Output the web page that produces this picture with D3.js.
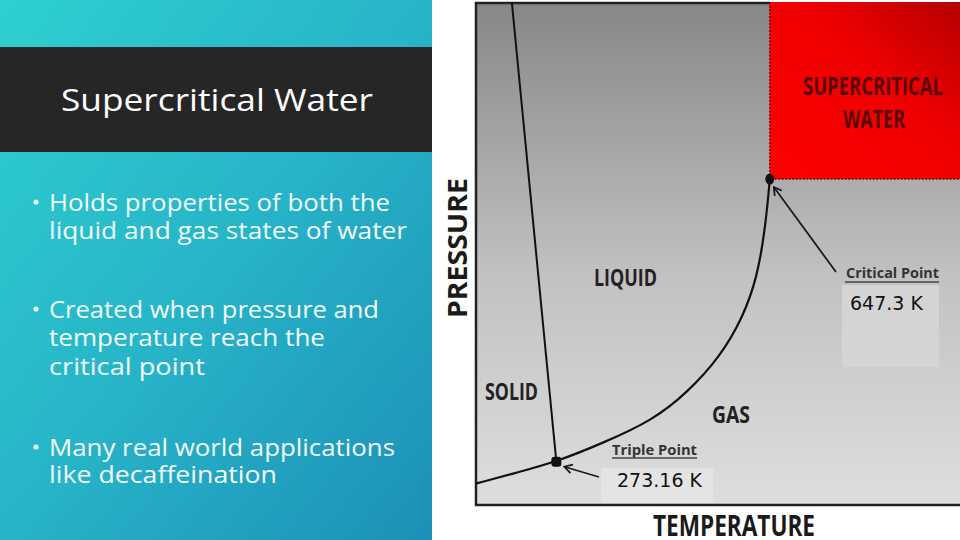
<!DOCTYPE html>
<html>
<head>
<meta charset="utf-8">
<style>
  body { margin: 0; background: #fff; }
  svg { display: block; }
</style>
</head>
<body>
<svg id="slide"></svg>
<script src="https://cdn.jsdelivr.net/npm/d3@7"></script>
<script>
// --- data (schematic units, 0..100 on both axes) ---
const fusionLine = [[7.4, 100], [16.6, 8.6]];
const vaporCurve = [[0.1, 4.3], [9.1, 6.6], [16.6, 8.6], [26.2, 12.3], [36.6, 16.9], [43.6, 22.3],
                    [50.4, 29.4], [55.2, 37.4], [58.1, 45.3], [59.7, 54.7], [60.5, 62.5], [60.7, 64.8]];
const triplePoint = [16.6, 8.6];
const criticalPoint = [60.7, 64.8];
const pointLabels = ["273.16 K", "647.3 K"];
const phaseNames = ["SOLID", "LIQUID", "GAS"];
const bullets = [
  ["Holds properties of both the", "liquid and gas states of water"],
  ["Created when pressure and", "temperature reach the", "critical point"],
  ["Many real world applications", "like decaffeination"]
];

const W = 960, H = 540;
const svg = d3.select('#slide').attr('width', W).attr('height', H);
const defs = svg.append('defs');

// gradients
const teal = defs.append('linearGradient').attr('id', 'teal')
  .attr('x1', 0).attr('y1', 0).attr('x2', 1).attr('y2', 1);
teal.append('stop').attr('offset', 0).attr('stop-color', '#2ed0d0');
teal.append('stop').attr('offset', 0.5).attr('stop-color', '#27b4c8');
teal.append('stop').attr('offset', 1).attr('stop-color', '#1d8fb8');

const grey = defs.append('linearGradient').attr('id', 'grey')
  .attr('x1', 0).attr('y1', 0).attr('x2', 0).attr('y2', 1);
grey.append('stop').attr('offset', 0).attr('stop-color', '#878787');
grey.append('stop').attr('offset', 0.55).attr('stop-color', '#c2c2c2');
grey.append('stop').attr('offset', 1).attr('stop-color', '#dedede');

const red = defs.append('linearGradient').attr('id', 'red')
  .attr('x1', 0).attr('y1', 1).attr('x2', 1).attr('y2', 0);
red.append('stop').attr('offset', 0).attr('stop-color', '#ff0000');
red.append('stop').attr('offset', 0.6).attr('stop-color', '#ee0000');
red.append('stop').attr('offset', 1).attr('stop-color', '#b40000');

// open arrowhead, tip at the end of the line
defs.append('marker').attr('id', 'arrow')
  .attr('viewBox', '0 0 10 10').attr('refX', 9).attr('refY', 5)
  .attr('markerUnits', 'userSpaceOnUse')
  .attr('markerWidth', 11).attr('markerHeight', 11).attr('orient', 'auto')
  .append('path').attr('d', 'M2,1 L9,5 L2,9')
  .attr('fill', 'none').attr('stroke', '#1a1a1a').attr('stroke-width', 1.6);

// --- left panel ---
svg.append('rect').attr('x', 0).attr('y', 0).attr('width', 432).attr('height', H).attr('fill', 'url(#teal)');
svg.append('rect').attr('x', 0).attr('y', 47).attr('width', 432).attr('height', 105).attr('fill', '#262626');
svg.append('text').attr('x', 61).attr('y', 111)
  .attr('font-family', 'Open Sans').attr('font-size', 31).attr('fill', '#fff')
  .attr('textLength', 312).attr('lengthAdjust', 'spacingAndGlyphs')
  .text('Supercritical Water');

const lineEnds = [[390, 407], [379, 325, 205], [395, 277]];
const lineBase = [[211, 239], [318, 346, 375], [456, 483]];
bullets.forEach((lines, i) => {
  svg.append('circle').attr('cx', 36).attr('cy', lineBase[i][0] - 9).attr('r', 2.6)
    .attr('fill', '#eafafa');
  lines.forEach((t, j) => {
    svg.append('text').attr('x', 49).attr('y', lineBase[i][j])
      .attr('font-family', 'Open Sans').attr('font-size', 24).attr('fill', '#f2fbfb')
      .attr('textLength', lineEnds[i][j] - 49).attr('lengthAdjust', 'spacingAndGlyphs')
      .text(t);
  });
});

// --- phase diagram ---
const x = d3.scaleLinear().domain([0, 100]).range([476, 960]);
const y = d3.scaleLinear().domain([0, 100]).range([505, 2]);

svg.append('rect').attr('x', x(0)).attr('y', y(100))
  .attr('width', x(100) - x(0)).attr('height', y(0) - y(100)).attr('fill', 'url(#grey)');

// supercritical region
svg.append('rect').attr('x', x(criticalPoint[0])).attr('y', y(100))
  .attr('width', x(100) - x(criticalPoint[0])).attr('height', y(criticalPoint[1]) - y(100))
  .attr('fill', 'url(#red)');
svg.append('path')
  .attr('d', `M${x(criticalPoint[0])},${y(100)} V${y(criticalPoint[1])} H${x(100)}`)
  .attr('fill', 'none').attr('stroke', '#7a0000').attr('stroke-width', 1.5)
  .attr('stroke-dasharray', '2,1.5');

// axes frame
const frame = svg.append('g').attr('fill', 'none').attr('stroke', '#222').attr('stroke-width', 2.5);
frame.append('path').attr('d', `M${x(criticalPoint[0])},${y(100) + 1} H${x(0)} V${y(0)} H${x(100)}`);

const straight = d3.line().x(d => x(d[0])).y(d => y(d[1]));
const smooth = d3.line().x(d => x(d[0])).y(d => y(d[1])).curve(d3.curveBasis);
svg.append('path').datum(fusionLine).attr('d', straight)
  .attr('fill', 'none').attr('stroke', '#111').attr('stroke-width', 2);
svg.append('path').datum(vaporCurve).attr('d', smooth)
  .attr('fill', 'none').attr('stroke', '#111').attr('stroke-width', 2.2);

svg.append('ellipse').attr('cx', x(criticalPoint[0])).attr('cy', y(criticalPoint[1]))
  .attr('rx', 4.5).attr('ry', 5.5).attr('fill', '#111');
svg.append('rect').attr('x', x(triplePoint[0]) - 5).attr('y', y(triplePoint[1]) - 5)
  .attr('width', 10).attr('height', 10).attr('rx', 3).attr('fill', '#111');

// labels
const bold = (sel) => sel.attr('font-family', 'Open Sans').attr('font-weight', 'bold')
  .attr('lengthAdjust', 'spacingAndGlyphs');

bold(svg.append('text')).attr('x', 803).attr('y', 95).attr('font-size', 25)
  .attr('fill', '#5a0808').attr('textLength', 140).text('SUPERCRITICAL');
bold(svg.append('text')).attr('x', 843).attr('y', 128).attr('font-size', 25)
  .attr('fill', '#5a0808').attr('textLength', 62).text('WATER');

const phasePos = [[485, 400, 53], [594, 286, 63], [712, 423, 38]];
phaseNames.forEach((n, i) => {
  bold(svg.append('text')).attr('x', phasePos[i][0]).attr('y', phasePos[i][1])
    .attr('font-size', 23).attr('fill', '#222').attr('textLength', phasePos[i][2]).text(n);
});

bold(svg.append('text')).attr('x', 467).attr('y', 318).attr('font-size', 27)
  .attr('fill', '#1a1a1a').attr('textLength', 140)
  .attr('transform', 'rotate(-90 467 318)').text('PRESSURE');
bold(svg.append('text')).attr('x', 653).attr('y', 536).attr('font-size', 28)
  .attr('fill', '#1a1a1a').attr('textLength', 162).text('TEMPERATURE');

// point captions
bold(svg.append('text')).attr('x', 612).attr('y', 455).attr('font-size', 15)
  .attr('fill', '#333').attr('textLength', 85).text('Triple Point');
svg.append('line').attr('x1', 612).attr('x2', 697).attr('y1', 458).attr('y2', 458)
  .attr('stroke', '#444').attr('stroke-width', 1.5);
bold(svg.append('text')).attr('x', 846).attr('y', 278).attr('font-size', 15)
  .attr('fill', '#333').attr('textLength', 93).text('Critical Point');
svg.append('line').attr('x1', 845).attr('x2', 939).attr('y1', 282).attr('y2', 282)
  .attr('stroke', '#444').attr('stroke-width', 1.5);

svg.append('rect').attr('x', 601).attr('y', 468).attr('width', 112).attr('height', 35).attr('fill', '#e4e4e4');
svg.append('rect').attr('x', 842).attr('y', 285).attr('width', 97).attr('height', 82).attr('fill', '#d4d4d4');
svg.append('text').attr('x', 617).attr('y', 487).attr('font-family', 'DejaVu Sans').attr('font-size', 19)
  .attr('fill', '#111').text(pointLabels[0]);
svg.append('text').attr('x', 850).attr('y', 310).attr('font-family', 'DejaVu Sans').attr('font-size', 19)
  .attr('fill', '#111').text(pointLabels[1]);

// arrows
svg.append('line').attr('x1', 836).attr('y1', 272)
  .attr('x2', x(criticalPoint[0]) + 4).attr('y2', y(criticalPoint[1]) + 8)
  .attr('stroke', '#1a1a1a').attr('stroke-width', 1.8).attr('marker-end', 'url(#arrow)');
svg.append('line').attr('x1', 599).attr('y1', 477)
  .attr('x2', x(triplePoint[0]) + 8).attr('y2', y(triplePoint[1]) + 5)
  .attr('stroke', '#1a1a1a').attr('stroke-width', 1.8).attr('marker-end', 'url(#arrow)');
</script>
</body>
</html>
